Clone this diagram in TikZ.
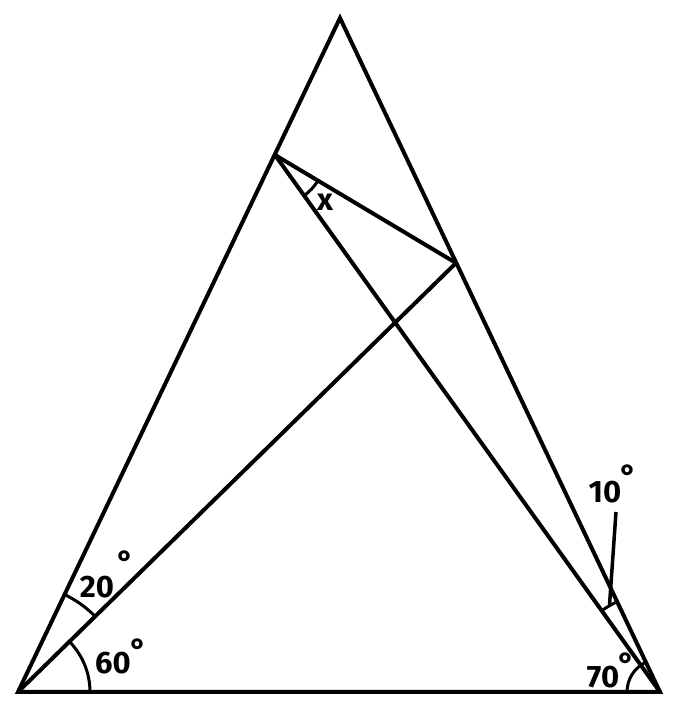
\documentclass[tikz,border=0pt]{standalone}
\usepackage{fontspec}
\setmainfont{Fira Sans}
\usetikzlibrary{angles}
\begin{document}
\begin{tikzpicture}[x=1pt,y=1pt,
  edge/.style={line width=4pt},
  angarc/.style={draw,line width=3pt},
  lbl/.style={font=\fontsize{31}{31}\selectfont\bfseries,inner sep=0pt},
  deg/.style={font=\fontsize{32}{32}\selectfont\bfseries,inner sep=0pt,anchor=west}]
\useasboundingbox (0,0) rectangle (698,720);
\coordinate (A) at (340,702);
\coordinate (B) at (18,28);
\coordinate (C) at (660,28);
\coordinate (D) at (275,565);
\coordinate (E) at (456,457);
\coordinate (T) at (616,208);
\coordinate (M) at (609.5,115);
\draw[edge] (A) -- (B) -- (C) -- cycle;
\draw[edge] (B) -- (E);
\draw[edge] (C) -- (D);
\draw[edge] (D) -- (E);
\pic[angarc, angle radius=72pt] {angle=C--B--E};
\pic[angarc, angle radius=108pt] {angle=E--B--A};
\pic[angarc, angle radius=50pt] {angle=C--D--E};
\pic[angarc, angle radius=33pt] {angle=A--C--B};
\pic[angarc, angle radius=100pt] {angle=A--C--D};
\draw[line width=3.5pt] (T) -- (M);
\node[lbl] (lx) at (325,518) {x};
\node[lbl] (l20) at (97,133) {20};
\node[deg] (d20) at ([xshift=3pt,yshift=25pt]l20.east) {°};
\node[lbl] (l60) at (113,57) {60};
\node[deg] (d60) at ([xshift=-1pt,yshift=13pt]l60.east) {°};
\node[lbl] (l70) at (603,43) {70};
\node[deg] (d70) at ([xshift=-1pt,yshift=13pt]l70.east) {°};
\node[lbl] (l10) at (605,228) {10};
\node[deg] (d10) at ([xshift=-1pt,yshift=16pt]l10.east) {°};
\end{tikzpicture}
\end{document}
